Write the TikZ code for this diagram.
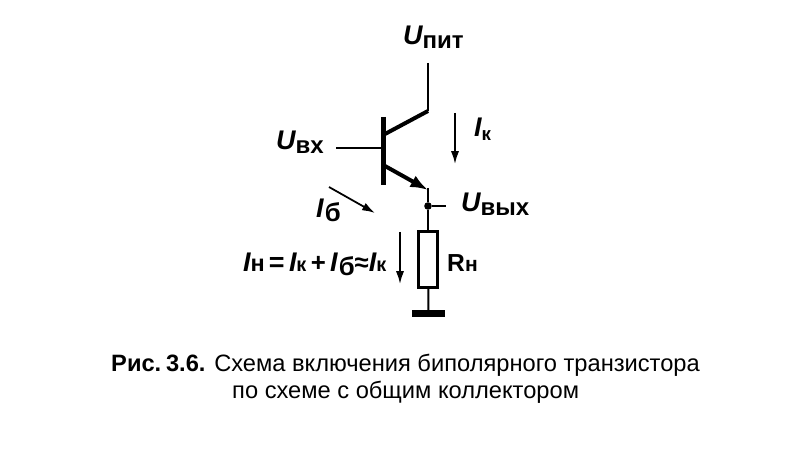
\documentclass[tikz,border=0pt]{standalone}
\usepackage{fontspec}
\setmainfont{Liberation Sans}
\usetikzlibrary{arrows.meta}
\tikzset{
    wire/.style={line width=1.7pt},
    thick wire/.style={line width=3.4pt},
    current/.style={line width=1.5pt,-{Latex[length=11pt,width=7pt]}},
    lbl/.style={inner sep=0pt,font=\fontsize{20.5}{24}\bfseries},
    caption/.style={inner sep=0pt,font=\fontsize{20.2}{24}\selectfont,anchor=west}
}
\newcommand{\bi}[1]{{\fontsize{23}{24}\bfseries\itshape #1}}
\newcommand{\low}[2]{\raisebox{-3pt}{\fontsize{#1}{24}\selectfont #2}}
\begin{document}
\begin{tikzpicture}[x=.03cm,y=-.03cm]
    \useasboundingbox[fill=white](0,0)rectangle(798,452);
    \coordinate(top)at(428,63);
    \coordinate(col)at(428,111);
    \coordinate(colb)at(385,134);
    \coordinate(inp)at(336,148);
    \coordinate(bas)at(383,148);
    \coordinate(barT)at(383.5,117);
    \coordinate(barB)at(383.5,185);
    \coordinate(emb)at(385,166);
    \coordinate(em)at(428,190);
    \coordinate(emd)at(428,188);
    \coordinate(out)at(446,206);
    \coordinate(ikA)at(455,113);
    \coordinate(ikB)at(455,164);
    \coordinate(ibA)at(329,187);
    \coordinate(ibB)at(375,213);
    \coordinate(inA)at(400,232);
    \coordinate(inB)at(400,284);
    \node[draw,line width=2.8pt,minimum width=.03cm*19,minimum height=.03cm*56,inner sep=0pt](rn)at(428,259.5){};
    \node[circle,fill,inner sep=0pt,minimum size=6.5pt](dot)at(428,206){};
    \node[fill,inner sep=0pt,minimum width=.03cm*33,minimum height=.03cm*7](ground)at(428.5,313.5){};
    \node[lbl,anchor=base west](upit)at(403,45){\bi{U}\low{20.5}{пит}};
    \node[lbl,anchor=base west](uvx)at(276,150){\bi{U}\low{20.5}{вх}};
    \node[lbl,anchor=base west](uvyx)at(461,212){\bi{U}\low{20.5}{вых}};
    \node[lbl,anchor=base west](ik)at(474,137){\bi{I}\low{16}{к}};
    \node[lbl,anchor=base west](ib)at(316,218){\bi{I}\kern1pt\low{22}{б}};
    \node[lbl,anchor=base west](rlab)at(447,272){\fontsize{21}{24}\selectfont R\fontsize{18}{20}\selectfont н};
    \node[lbl,anchor=base west](iform)at(243,272){\bi{I}\fontsize{20}{22}\selectfont н\,\fontsize{23}{24}\selectfont=\,\bi{I}\fontsize{17}{18}\selectfont к\fontsize{22}{24}\selectfont\,+\,\bi{I}\kern1pt\low{22}{б}≈\bi{I}\fontsize{17}{18}\selectfont к};
    \node[caption,anchor=base west](cap1)at(111,372){\textbf{Рис.\hspace{.2em}3.6.} Схема включения биполярного транзистора};
    \node[caption,anchor=base west](cap2)at(232,398){по схеме с общим коллектором};
    \draw[wire](top)--(col);
    \draw[thick wire,line join=round](col)--(colb);
    \draw[wire](inp)--(bas);
    \draw[line width=4.4pt](barT)--(barB);
    \draw[thick wire,-{Latex[length=15pt,width=11pt]}](emb)--(em);
    \draw[wire](emd)--(dot);
    \draw[wire](dot)--(out);
    \draw[wire](dot)--(rn);
    \draw[wire](rn)--(ground);
    \draw[current](ikA)--(ikB);
    \draw[current](ibA)--(ibB);
    \draw[current](inA)--(inB);
\end{tikzpicture}
\end{document}
